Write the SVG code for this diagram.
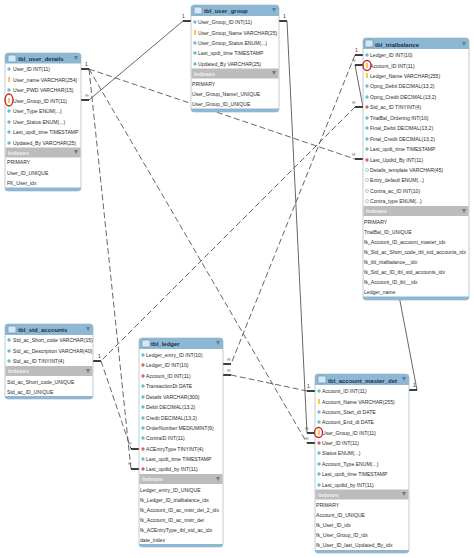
<svg xmlns="http://www.w3.org/2000/svg" width="474" height="558" viewBox="0 0 474 558">
<style>
text{font-family:"Liberation Sans",Arial,sans-serif;font-size:5.1px;fill:#2a2a2a}
.t{font-size:6px;font-weight:bold;fill:#1c3146}
.h{font-size:5.6px;font-weight:bold;fill:#f2f2f2}
.c{font-size:5px;fill:#333}
.box{fill:#fff;stroke:#9ab;stroke-width:.6}
.hd{fill:#8db7d3}
.ix{fill:#bcbcbc}
.ft{fill:#8db7d3}
.ic{fill:#d3e9f8;stroke:#6f93b4;stroke-width:.7}
.a{fill:#62bfc9}
.b{fill:#7cb6d8}
.r{fill:#d8636b}
.e{fill:#e8f0f0;stroke:#a8c0c0;stroke-width:.6}
.k{fill:#f2ce4c}
.tri{fill:#5d7f9c}
.tg{fill:#777}
.s{fill:none;stroke:#555;stroke-width:.9}
.d{fill:none;stroke:#555;stroke-width:.9;stroke-dasharray:6 3}
.st{fill:none;stroke:#000;stroke-width:1.5}
.o{fill:none;stroke:#cf1f2a;stroke-width:1.3}
</style>
<g id="connectors">
<path class="s" d="M89 100L183 21"/>
<path class="d" d="M89 69L355 159"/>
<path class="d" d="M89 69L131 469"/>
<path class="d" d="M89 69L307 443"/>
<path class="s" d="M287 21L307 433"/>
<path class="s" d="M355 65L417 390"/>
<path class="d" d="M355 55L231 364"/>
<path class="d" d="M355 107L101 361"/>
<path class="d" d="M101 361L131 449"/>
<path class="d" d="M231 375L307 391"/>
<path class="st" d="M81 100h8M81 69h8M183 21h8M279 21h8M355 55h8M355 65h8M355 107h8M355 159h8M93 361h8M223 364h8M223 375h8M131 449h8M131 469h8M307 391h8M307 433h8M307 443h8M409 390h8"/>
<text class="c" x="85" y="66">1</text>
<text class="c" x="85" y="97">∞</text>
<text class="c" x="182" y="18">1</text>
<text class="c" x="283" y="18">1</text>
<text class="c" x="355" y="52">1</text>
<text class="c" x="352" y="62">∞</text>
<text class="c" x="352" y="104">∞</text>
<text class="c" x="352" y="156">∞</text>
<text class="c" x="98" y="358">1</text>
<text class="c" x="227" y="361">∞</text>
<text class="c" x="227" y="372">∞</text>
<text class="c" x="128" y="445">∞</text>
<text class="c" x="128" y="465">∞</text>
<text class="c" x="307" y="388">1</text>
<text class="c" x="305" y="430">∞</text>
<text class="c" x="305" y="440">∞</text>
<text class="c" x="413" y="387">1</text>
</g>
<g id="tbl_user_details">
<rect class="box" x="5" y="53" width="76" height="138" rx="3"/>
<path class="hd" d="M5 63.500v-7.500a3 3 0 0 1 3-3h70a3 3 0 0 1 3 3v7.500z"/>
<rect class="ic" x="8" y="55" width="8" height="7" rx="1"/>
<path class="tri" d="M74 56h4l-2 4z"/>
<text class="t" x="18" y="60.500">tbl_user_details</text>
<circle class="b" cx="9" cy="69" r="1.700"/><text x="13" y="71">User_ID INT(11)</text>
<rect class="k" x="8" y="77" width="2" height="5"/><text x="13" y="81.500">User_name VARCHAR(254)</text>
<circle class="a" cx="9" cy="90" r="1.700"/><text x="13" y="92">User_PWD VARCHAR(15)</text>
<rect class="k" x="8" y="98" width="2" height="5"/><text x="13" y="102.500">User_Group_ID INT(11)</text>
<circle class="a" cx="9" cy="111" r="1.700"/><text x="13" y="113">User_Type ENUM(...)</text>
<circle class="a" cx="9" cy="122" r="1.700"/><text x="13" y="124">User_Status ENUM(...)</text>
<circle class="a" cx="9" cy="132" r="1.700"/><text x="13" y="134">Last_updt_time TIMESTAMP</text>
<circle class="a" cx="9" cy="143" r="1.700"/><text x="13" y="145">Updated_By VARCHAR(25)</text>
<rect class="ix" x="5.500" y="147.500" width="75" height="10"/>
<text class="h" x="8" y="154.500">Indexes</text><path class="tg" d="M74 150h4l-2 4z"/>
<text x="7" y="164">PRIMARY</text>
<text x="7" y="174.500">User_ID_UNIQUE</text>
<text x="7" y="184.500">FK_User_idx</text>
<path class="ft" d="M5 187.500h76v.5a3 3 0 0 1-3 3h-70a3 3 0 0 1-3-3z"/>
</g>
<g id="tbl_user_group">
<rect class="box" x="191" y="5" width="88" height="107" rx="3"/>
<path class="hd" d="M191 16v-8a3 3 0 0 1 3-3h82a3 3 0 0 1 3 3v8z"/>
<rect class="ic" x="194" y="7" width="8" height="7" rx="1"/>
<path class="tri" d="M272 8h4l-2 4z"/>
<text class="t" x="204" y="13">tbl_user_group</text>
<circle class="b" cx="195" cy="22" r="1.700"/><text x="198" y="24">User_Group_ID INT(11)</text>
<rect class="k" x="194" y="30" width="2" height="5"/><text x="198" y="34.500">User_Group_Name VARCHAR(25)</text>
<circle class="b" cx="195" cy="43" r="1.700"/><text x="198" y="45">User_Group_Status ENUM(...)</text>
<circle class="a" cx="195" cy="53" r="1.700"/><text x="198" y="55">Last_updt_time TIMESTAMP</text>
<circle class="a" cx="195" cy="64" r="1.700"/><text x="198" y="66">Updated_By VARCHAR(25)</text>
<rect class="ix" x="191.500" y="68.500" width="87" height="10"/>
<text class="h" x="194" y="75.500">Indexes</text><path class="tg" d="M272 71h4l-2 4z"/>
<text x="192" y="85.500">PRIMARY</text>
<text x="192" y="95.500">User_Group_NameI_UNIQUE</text>
<text x="192" y="105.500">User_Group_ID_UNIQUE</text>
<path class="ft" d="M191 108.500h88v.5a3 3 0 0 1-3 3h-82a3 3 0 0 1-3-3z"/>
</g>
<g id="tbl_trialbalance">
<rect class="box" x="363" y="38" width="106" height="262" rx="3"/>
<path class="hd" d="M363 49v-8a3 3 0 0 1 3-3h100a3 3 0 0 1 3 3v8z"/>
<rect class="ic" x="365" y="40" width="8" height="7" rx="1"/>
<path class="tri" d="M462 42h4l-2 4z"/>
<text class="t" x="375" y="46.500">tbl_trialbalance</text>
<circle class="a" cx="367" cy="55" r="1.700"/><text x="370" y="57">Ledger_ID INT(10)</text>
<rect class="k" x="366" y="63" width="2" height="5"/><text x="370" y="67.500">Account_ID INT(11)</text>
<rect class="k" x="366" y="73" width="2" height="5"/><text x="370" y="78">Ledger_Name VARCHAR(255)</text>
<circle class="a" cx="367" cy="86" r="1.700"/><text x="370" y="88">Opng_Debit DECIMAL(13,2)</text>
<circle class="a" cx="367" cy="97" r="1.700"/><text x="370" y="99">Opng_Credit DECIMAL(13,2)</text>
<circle class="r" cx="367" cy="107" r="1.700"/><text x="370" y="109">Std_ac_ID TINYINT(4)</text>
<circle class="a" cx="367" cy="118" r="1.700"/><text x="370" y="120">TrialBal_Ordering INT(10)</text>
<circle class="a" cx="367" cy="128" r="1.700"/><text x="370" y="130">Final_Debit DECIMAL(13,2)</text>
<circle class="a" cx="367" cy="139" r="1.700"/><text x="370" y="141">Final_Credit DECIMAL(13,2)</text>
<circle class="a" cx="367" cy="149" r="1.700"/><text x="370" y="151">Last_updt_time TIMESTAMP</text>
<circle class="r" cx="367" cy="160" r="1.700"/><text x="370" y="162">Last_Updtd_By INT(11)</text>
<circle class="e" cx="367" cy="170" r="1.700"/><text x="370" y="172">Details_template VARCHAR(45)</text>
<circle class="e" cx="367" cy="180" r="1.700"/><text x="370" y="182">Entry_default ENUM(...)</text>
<circle class="e" cx="367" cy="191" r="1.700"/><text x="370" y="193">Contra_ac_ID INT(10)</text>
<circle class="e" cx="367" cy="201" r="1.700"/><text x="370" y="203">Contra_type ENUM(...)</text>
<rect class="ix" x="363.500" y="206" width="105" height="10"/>
<text class="h" x="366" y="213">Indexes</text><path class="tg" d="M462 209h4l-2 4z"/>
<text x="364" y="223.500">PRIMARY</text>
<text x="364" y="234">TrialBal_ID_UNIQUE</text>
<text x="364" y="244">fk_Account_ID_account_master_idx</text>
<text x="364" y="254">fk_Std_ac_Short_code_tbl_std_accounts_idx</text>
<text x="364" y="264">fk_tbl_trialbalance__idx</text>
<text x="364" y="274">fk_Std_ac_ID_tbl_std_accounts_idx</text>
<text x="364" y="284">fk_Account_ID_tbl__idx</text>
<text x="364" y="294">Ledger_name</text>
<path class="ft" d="M363 296.500h106v.5a3 3 0 0 1-3 3h-100a3 3 0 0 1-3-3z"/>
</g>
<g id="tbl_std_accounts">
<rect class="box" x="5" y="324" width="88" height="75" rx="3"/>
<path class="hd" d="M5 335v-8a3 3 0 0 1 3-3h82a3 3 0 0 1 3 3v8z"/>
<rect class="ic" x="8" y="326" width="8" height="7" rx="1"/>
<path class="tri" d="M86 327h4l-2 4z"/>
<text class="t" x="18" y="332">tbl_std_accounts</text>
<circle class="a" cx="9" cy="340" r="1.700"/><text x="13" y="342">Std_ac_Short_code VARCHAR(15)</text>
<circle class="a" cx="9" cy="351" r="1.700"/><text x="13" y="353">Std_ac_Description VARCHAR(40)</text>
<circle class="a" cx="9" cy="361" r="1.700"/><text x="13" y="363">Std_ac_ID TINYINT(4)</text>
<rect class="ix" x="5.500" y="366" width="87" height="10"/>
<text class="h" x="8" y="373">Indexes</text><path class="tg" d="M86 369h4l-2 4z"/>
<text x="7" y="383.500">Std_ac_Short_code_UNIQUE</text>
<text x="7" y="393.500">Std_ac_ID_UNIQUE</text>
<path class="ft" d="M5 396h88v0a3 3 0 0 1-3 3h-82a3 3 0 0 1-3-3z"/>
</g>
<g id="tbl_ledger">
<rect class="box" x="139" y="338" width="84" height="209" rx="3"/>
<path class="hd" d="M139 349v-8a3 3 0 0 1 3-3h78a3 3 0 0 1 3 3v8z"/>
<rect class="ic" x="142" y="340" width="8" height="7" rx="1"/>
<path class="tri" d="M216 341h4l-2 4z"/>
<text class="t" x="151" y="346">tbl_ledger</text>
<circle class="a" cx="143" cy="355" r="1.700"/><text x="146" y="357">Ledger_entry_ID INT(10)</text>
<circle class="r" cx="143" cy="365" r="1.700"/><text x="146" y="367">Ledger_ID INT(10)</text>
<circle class="r" cx="143" cy="376" r="1.700"/><text x="146" y="378">Account_ID INT(11)</text>
<circle class="a" cx="143" cy="386" r="1.700"/><text x="146" y="388">TransactionDt DATE</text>
<circle class="a" cx="143" cy="397" r="1.700"/><text x="146" y="399">Details VARCHAR(300)</text>
<circle class="a" cx="143" cy="407" r="1.700"/><text x="146" y="409">Debit DECIMAL(13,2)</text>
<circle class="a" cx="143" cy="418" r="1.700"/><text x="146" y="420">Credit DECIMAL(13,2)</text>
<circle class="a" cx="143" cy="428" r="1.700"/><text x="146" y="430">OrderNumber MEDIUMINT(9)</text>
<circle class="a" cx="143" cy="438" r="1.700"/><text x="146" y="440">ContraID INT(11)</text>
<circle class="r" cx="143" cy="449" r="1.700"/><text x="146" y="451">ACEntryType TINYINT(4)</text>
<circle class="a" cx="143" cy="459" r="1.700"/><text x="146" y="461">Last_updt_time TIMESTAMP</text>
<circle class="r" cx="143" cy="469" r="1.700"/><text x="146" y="471">Last_updtd_by INT(11)</text>
<rect class="ix" x="139.500" y="474" width="83" height="10"/>
<text class="h" x="142" y="481">Indexes</text><path class="tg" d="M216 477h4l-2 4z"/>
<text x="140" y="492">Ledger_entry_ID_UNIQUE</text>
<text x="140" y="502">fk_Ledger_ID_trialbalance_idx</text>
<text x="140" y="512">fk_Account_ID_ac_mstr_det_2_idx</text>
<text x="140" y="522">fk_Account_ID_ac_mstr_det</text>
<text x="140" y="532">fk_ACEntryType_tbl_std_ac_idx</text>
<text x="140" y="542">date_index</text>
<path class="ft" d="M139 544h84v0a3 3 0 0 1-3 3h-78a3 3 0 0 1-3-3z"/>
</g>
<g id="tbl_account_master_det">
<rect class="box" x="315" y="374" width="94" height="179" rx="3"/>
<path class="hd" d="M315 385v-8a3 3 0 0 1 3-3h88a3 3 0 0 1 3 3v8z"/>
<rect class="ic" x="318" y="376" width="8" height="7" rx="1"/>
<path class="tri" d="M402 377h4l-2 4z"/>
<text class="t" x="328" y="382.500">tbl_account_master_det</text>
<circle class="a" cx="319" cy="391" r="1.700"/><text x="322" y="393">Account_ID INT(11)</text>
<rect class="k" x="318" y="399" width="2" height="5"/><text x="322" y="403.500">Account_Name VARCHAR(255)</text>
<circle class="b" cx="319" cy="412" r="1.700"/><text x="322" y="414">Account_Start_dt DATE</text>
<circle class="a" cx="319" cy="422" r="1.700"/><text x="322" y="424">Account_End_dt DATE</text>
<rect class="k" x="318" y="430" width="2" height="5"/><text x="322" y="434.500">User_Group_ID INT(11)</text>
<circle class="r" cx="319" cy="443" r="1.700"/><text x="322" y="445">User_ID INT(11)</text>
<circle class="a" cx="319" cy="453" r="1.700"/><text x="322" y="455">Status ENUM(...)</text>
<circle class="a" cx="319" cy="464" r="1.700"/><text x="322" y="466">Account_Type ENUM(...)</text>
<circle class="a" cx="319" cy="474" r="1.700"/><text x="322" y="476">Last_updt_time TIMESTAMP</text>
<circle class="a" cx="319" cy="485" r="1.700"/><text x="322" y="487">Last_updtd_by INT(11)</text>
<rect class="ix" x="315.500" y="489.500" width="93" height="10"/>
<text class="h" x="318" y="496.500">Indexes</text><path class="tg" d="M402 492h4l-2 4z"/>
<text x="316" y="507">PRIMARY</text>
<text x="316" y="517">Account_ID_UNIQUE</text>
<text x="316" y="527">fk_User_ID_idx</text>
<text x="316" y="537">fk_User_Group_ID_idx</text>
<text x="316" y="547">fk_User_ID_last_Updated_By_idx</text>
<path class="ft" d="M315 550h94v0a3 3 0 0 1-3 3h-88a3 3 0 0 1-3-3z"/>
</g>
<ellipse class="o" cx="9" cy="100" rx="4" ry="6"/>
<ellipse class="o" cx="367" cy="65.500" rx="4" ry="5"/>
<ellipse class="o" cx="318.500" cy="432.500" rx="4" ry="5"/>
</svg>
